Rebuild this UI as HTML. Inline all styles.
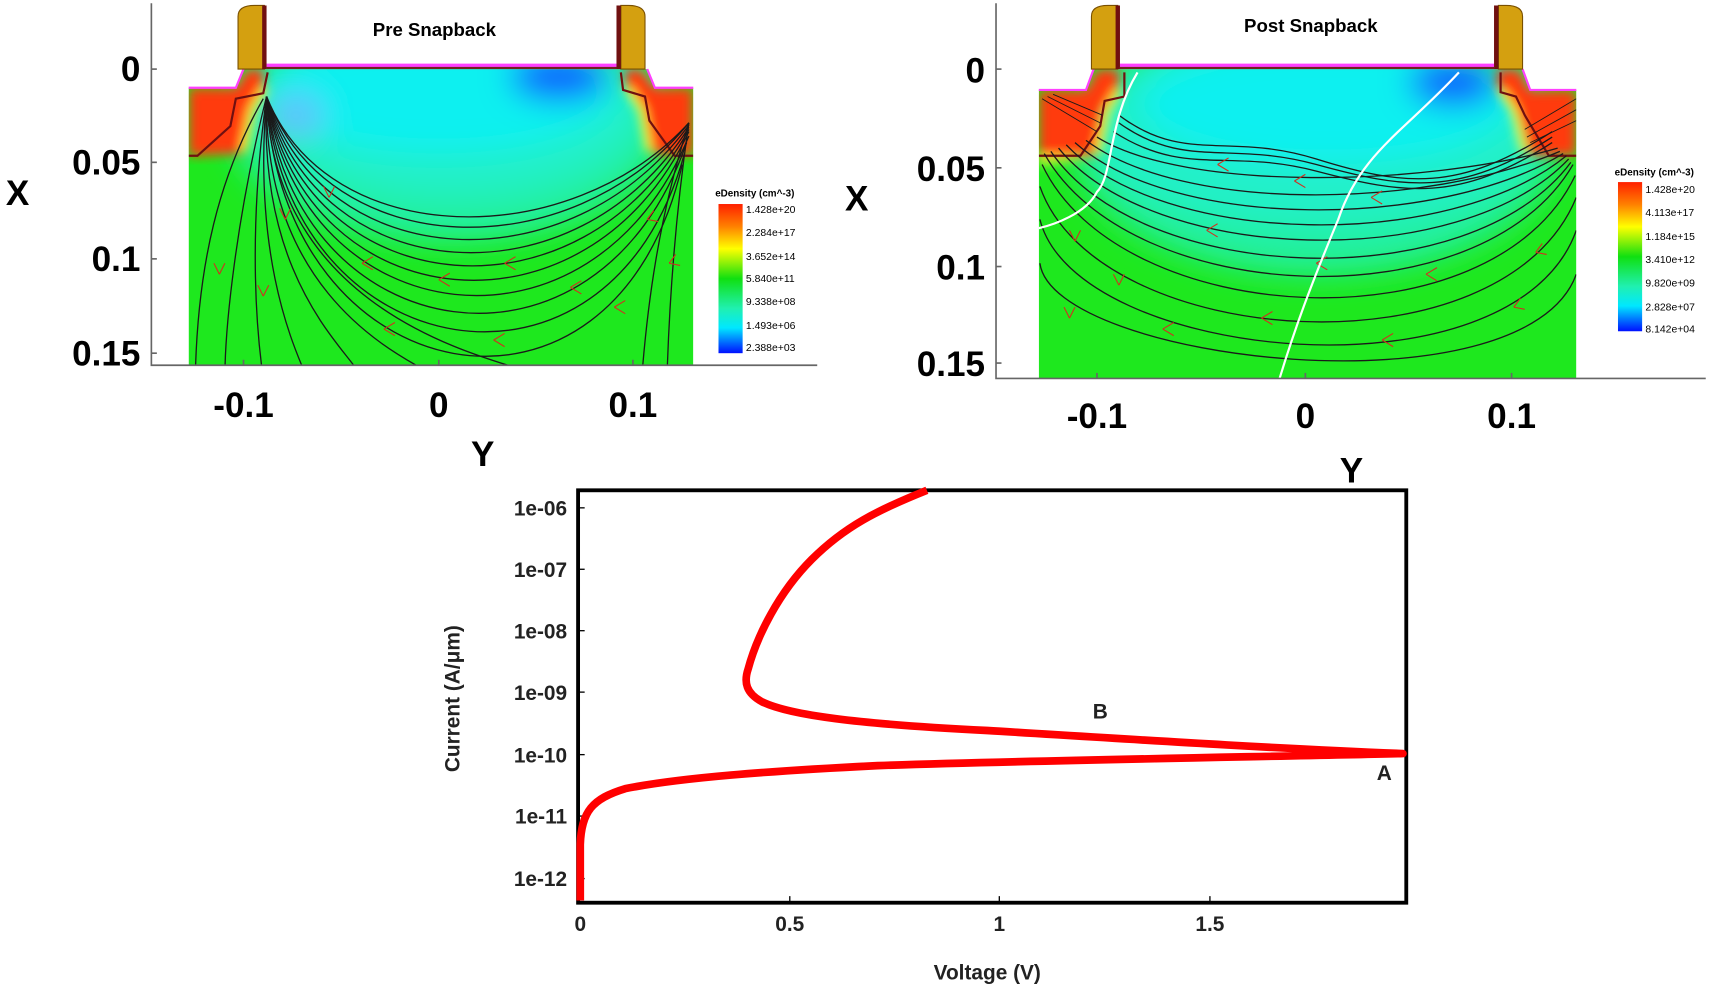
<!DOCTYPE html>
<html><head><meta charset="utf-8"><style>
html,body{margin:0;padding:0;background:#fff;}
svg{display:block;}
text{font-family:"Liberation Sans",sans-serif;}
</style></head><body>
<svg width="1720" height="992" viewBox="0 0 1568 904.4" preserveAspectRatio="none" xmlns="http://www.w3.org/2000/svg">
<defs>
<filter id="bl" x="-20%" y="-20%" width="140%" height="140%"><feGaussianBlur stdDeviation="14"/></filter>
<filter id="bl2"><feGaussianBlur stdDeviation="5"/></filter>
<linearGradient id="cb" x1="0" y1="0" x2="0" y2="1">
<stop offset="0" stop-color="#ff2000"/><stop offset="0.15" stop-color="#ff8000"/><stop offset="0.3" stop-color="#ffff00"/><stop offset="0.5" stop-color="#10e010"/><stop offset="0.7" stop-color="#20f0b0"/><stop offset="0.83" stop-color="#00e8ff"/><stop offset="1" stop-color="#0010ff"/></linearGradient>
<clipPath id="c1"><path d="M172,80 L215,80 L222,63 L590,63 L597,80 L632,80 L632,333 L172,333Z"/></clipPath>
<clipPath id="c2"><path d="M947,82 L990,82 L997,63 L1388,63 L1395,82 L1437,82 L1437,345 L947,345Z"/></clipPath>
</defs>

<!-- ============ LEFT PANEL ============ -->
<g clip-path="url(#c1)">
<rect x="160" y="55" width="490" height="290" fill="#1ee81e"/>
<g filter="url(#bl)">
<ellipse cx="410" cy="110" rx="200" ry="110" fill="#20f0a0"/>
<ellipse cx="410" cy="100" rx="175" ry="80" fill="#20f0c8"/>
<ellipse cx="400" cy="85" rx="160" ry="55" fill="#10f0f0"/>
<ellipse cx="510" cy="70" rx="45" ry="22" fill="#1060ff"/>
<ellipse cx="270" cy="105" rx="25" ry="20" fill="#60c0ff"/>
</g>
<g filter="url(#bl2)">
<path d="M172,80 L215,80 L225,63 L240,63 L240,80 L228,100 L222,140 L180,142 L172,142Z" fill="#ff3a10"/>
<path d="M632,80 L597,80 L585,63 L570,63 L570,80 L585,100 L595,140 L632,142Z" fill="#ff3a10"/>
<path d="M222,138 L230,100 L242,80" stroke="#ffff40" stroke-width="6" fill="none"/>
<path d="M592,138 L585,100 L572,80" stroke="#ffff40" stroke-width="6" fill="none"/>
</g>
<path d="M172,142 L180,142 L210,115 L215,90 L240,85 L244,66" stroke="#701010" stroke-width="2" fill="none"/>
<path d="M632,142 L615,142 L592,110 L588,88 L568,82 L566,66" stroke="#701010" stroke-width="2" fill="none"/>
<g stroke="#1a1a1a" stroke-width="1.2" fill="none">
<path d="M243,88 C300,230 520,230 628,112"/>
<path d="M243,88 C300,240 520,245 628,112"/>
<path d="M243,88 C295,252 520,262 628,114"/>
<path d="M243,88 C290,265 525,280 628,116"/>
<path d="M243,88 C285,278 530,298 628,118"/>
<path d="M243,88 C280,292 535,318 628,120"/>
<path d="M243,88 C275,305 540,340 628,124"/>
<path d="M243,88 C268,320 545,365 626,130"/>
<path d="M243,88 C262,335 555,390 624,140"/>
<path d="M243,88 C255,360 560,420 622,150"/>
<path d="M243,88 C250,300 470,330 500,345"/>
<path d="M243,88 C240,280 380,330 400,345"/>
<path d="M243,88 C235,260 320,320 330,345"/>
<path d="M243,88 C230,240 270,320 280,345"/>
<path d="M243,88 C225,220 235,310 240,345"/>
<path d="M243,88 C215,200 205,300 205,345"/>
<path d="M240,90 C200,160 180,240 178,345"/>
<path d="M628,112 C600,200 590,280 585,345"/>
<path d="M628,112 C615,200 610,280 608,345"/>
</g>
<g stroke="#d03020" stroke-width="1" fill="none">
<path d="M400,255 l10,-6 M400,255 l10,6 M460,240 l10,-6 M460,240 l10,6 M520,262 l10,-6 M520,262 l10,6 M350,300 l10,-6 M350,300 l10,6 M450,310 l10,-6 M450,310 l10,6 M560,280 l10,-6 M560,280 l10,6 M240,270 l-5,-10 M240,270 l5,-10 M200,250 l-5,-10 M200,250 l5,-10 M260,200 l-5,-10 M260,200 l5,-10 M300,180 l-5,-10 M300,180 l5,-10 M590,200 l6,-8 M590,200 l10,2 M610,240 l6,-8 M610,240 l10,2 M330,240 l10,-6 M330,240 l10,6"/>
</g>
</g>
<path d="M172,80 L215,80 L222,63 M590,63 L597,80 L632,80" stroke="#ff40ff" stroke-width="2" fill="none"/>
<rect x="243" y="58" width="319" height="4" fill="#ff40ff"/>
<rect x="243" y="61" width="319" height="2" fill="#702020"/>
<path d="M217,63 L217,15 Q217,5 232,5 L241,5 L241,63Z" fill="#d4a010" stroke="#7a5000" stroke-width="1"/>
<rect x="239" y="5" width="4" height="58" fill="#701010"/>
<path d="M588,63 L588,15 Q588,5 573,5 L566,5 L566,63Z" fill="#d4a010" stroke="#7a5000" stroke-width="1"/>
<rect x="562" y="5" width="4" height="58" fill="#701010"/>
<text x="396" y="33" font-size="17" font-weight="bold" text-anchor="middle">Pre Snapback</text>
<path d="M138,3 L138,333 L745,333" stroke="#666" stroke-width="1.5" fill="none"/>
<g stroke="#666" stroke-width="1.5"><line x1="138" y1="63" x2="143" y2="63"/><line x1="138" y1="148" x2="143" y2="148"/><line x1="138" y1="236" x2="143" y2="236"/><line x1="138" y1="322" x2="143" y2="322"/><line x1="222" y1="333" x2="222" y2="328"/><line x1="400" y1="333" x2="400" y2="328"/><line x1="577" y1="333" x2="577" y2="328"/></g>
<g font-size="32" font-weight="bold" text-anchor="end"><text x="128" y="74">0</text><text x="128" y="159">0.05</text><text x="128" y="247">0.1</text><text x="128" y="333">0.15</text></g>
<g font-size="32" font-weight="bold" text-anchor="middle"><text x="222" y="380">-0.1</text><text x="400" y="380">0</text><text x="577" y="380">0.1</text><text x="440" y="425">Y</text><text x="16" y="187">X</text></g>
<text x="652" y="179" font-size="9" font-weight="bold">eDensity (cm^-3)</text>
<rect x="655" y="186" width="22" height="136" fill="url(#cb)"/>
<g font-size="9.5"><text x="680" y="194">1.428e+20</text><text x="680" y="215">2.284e+17</text><text x="680" y="237">3.652e+14</text><text x="680" y="257">5.840e+11</text><text x="680" y="278">9.338e+08</text><text x="680" y="300">1.493e+06</text><text x="680" y="320">2.388e+03</text></g>

<!-- ============ RIGHT PANEL ============ -->
<g clip-path="url(#c2)">
<rect x="940" y="55" width="510" height="300" fill="#1ee81e"/>
<g filter="url(#bl)">
<ellipse cx="1200" cy="130" rx="220" ry="120" fill="#20f0a0"/>
<ellipse cx="1200" cy="115" rx="210" ry="90" fill="#20f0c8"/>
<ellipse cx="1210" cy="95" rx="170" ry="55" fill="#10f0f0"/>
<ellipse cx="1325" cy="75" rx="40" ry="22" fill="#1060ff"/>
</g>
<g filter="url(#bl2)">
<path d="M947,82 L990,82 L1000,63 L1020,63 L1020,80 L1005,100 L998,142 L947,142Z" fill="#ff3a10"/>
<path d="M1437,82 L1395,82 L1385,63 L1365,63 L1365,82 L1385,105 L1395,142 L1437,142Z" fill="#ff3a10"/>
<path d="M947,142 L998,142 L947,150Z" fill="#ffff40"/>
<path d="M1000,140 L1010,100 L1020,82" stroke="#ffff40" stroke-width="6" fill="none"/>
<path d="M1390,140 L1380,100 L1368,82" stroke="#ffff40" stroke-width="6" fill="none"/>
</g>
<path d="M947,142 L985,142 L1003,115 L1007,92 L1025,88 L1025,66" stroke="#701010" stroke-width="2" fill="none"/>
<path d="M1437,142 L1412,142 L1390,105 L1382,88 L1368,84 L1368,66" stroke="#701010" stroke-width="2" fill="none"/>
<g stroke="#1a1a1a" stroke-width="1.2" fill="none">
<path d="M1020,105 C1080,150 1120,120 1200,145 S1330,175 1415,120"/>
<path d="M1020,112 C1080,155 1120,128 1200,150 S1330,180 1415,125"/>
<path d="M1015,120 C1080,162 1120,135 1200,156 S1330,185 1415,130"/>
<path d="M1000,125 C1080,175 1300,170 1420,135"/>
<path d="M990,128 C1080,195 1300,190 1422,138"/>
<path d="M980,130 C1070,210 1310,210 1425,140"/>
<path d="M972,132 C1060,225 1320,230 1428,142"/>
<path d="M965,135 C1050,240 1330,250 1430,145"/>
<path d="M958,138 C1040,260 1340,272 1432,148"/>
<path d="M952,140 C1030,280 1350,295 1434,150"/>
<path d="M950,150 C1020,300 1360,320 1436,160"/>
<path d="M948,170 C1000,320 1370,345 1437,180"/>
<path d="M948,200 C980,330 1380,370 1437,210"/>
<path d="M948,240 C960,330 1390,380 1437,250"/>
<g stroke-width="0.8"><path d="M950,90 L1000,120 M955,88 L1003,112 M960,86 L1005,105 M1437,90 L1390,118 M1437,100 L1392,125 M1437,110 L1395,130"/></g>
</g>
<g stroke="#d03020" stroke-width="1" fill="none">
<path d="M1110,150 l10,-6 M1110,150 l10,6 M1180,165 l10,-6 M1180,165 l10,6 M1250,180 l10,-6 M1250,180 l10,6 M1100,210 l10,-6 M1100,210 l10,6 M1200,240 l10,-6 M1200,240 l10,6 M1300,250 l10,-6 M1300,250 l10,6 M1150,290 l10,-6 M1150,290 l10,6 M1260,310 l10,-6 M1260,310 l10,6 M980,220 l-5,-10 M980,220 l5,-10 M975,290 l-5,-10 M975,290 l5,-10 M1020,260 l-5,-10 M1020,260 l5,-10 M1400,230 l6,-8 M1400,230 l10,2 M1380,280 l6,-8 M1380,280 l10,2 M1060,300 l10,-6 M1060,300 l10,6"/>
</g>
<path d="M1037,66 C1010,110 1015,160 1000,175 C990,195 960,205 947,208" stroke="#fff" stroke-width="2" fill="none"/>
<path d="M1330,66 C1280,120 1240,140 1220,200 C1195,260 1180,300 1165,350" stroke="#fff" stroke-width="2" fill="none"/>
</g>
<path d="M947,82 L990,82 L997,63 M1388,63 L1395,82 L1437,82" stroke="#ff40ff" stroke-width="2" fill="none"/>
<rect x="1021" y="58" width="341" height="4" fill="#ff40ff"/>
<rect x="1021" y="61" width="341" height="2" fill="#702020"/>
<path d="M995,63 L995,15 Q995,5 1010,5 L1019,5 L1019,63Z" fill="#d4a010" stroke="#7a5000" stroke-width="1"/>
<rect x="1017" y="5" width="4" height="58" fill="#701010"/>
<path d="M1388,63 L1388,15 Q1388,5 1373,5 L1366,5 L1366,63Z" fill="#d4a010" stroke="#7a5000" stroke-width="1"/>
<rect x="1362" y="5" width="4" height="58" fill="#701010"/>
<text x="1195" y="29" font-size="17" font-weight="bold" text-anchor="middle">Post Snapback</text>
<path d="M908,3 L908,345 L1555,345" stroke="#666" stroke-width="1.5" fill="none"/>
<g stroke="#666" stroke-width="1.5"><line x1="908" y1="63" x2="913" y2="63"/><line x1="908" y1="153" x2="913" y2="153"/><line x1="908" y1="243" x2="913" y2="243"/><line x1="908" y1="331" x2="913" y2="331"/><line x1="1000" y1="345" x2="1000" y2="340"/><line x1="1190" y1="345" x2="1190" y2="340"/><line x1="1378" y1="345" x2="1378" y2="340"/></g>
<g font-size="32" font-weight="bold" text-anchor="end"><text x="898" y="75">0</text><text x="898" y="165">0.05</text><text x="898" y="255">0.1</text><text x="898" y="343">0.15</text></g>
<g font-size="32" font-weight="bold" text-anchor="middle"><text x="1000" y="390">-0.1</text><text x="1190" y="390">0</text><text x="1378" y="390">0.1</text><text x="1232" y="440">Y</text><text x="781" y="192">X</text></g>
<text x="1472" y="160" font-size="9" font-weight="bold">eDensity (cm^-3)</text>
<rect x="1475" y="166" width="22" height="136" fill="url(#cb)"/>
<g font-size="9.5"><text x="1500" y="176">1.428e+20</text><text x="1500" y="197">4.113e+17</text><text x="1500" y="219">1.184e+15</text><text x="1500" y="240">3.410e+12</text><text x="1500" y="261">9.820e+09</text><text x="1500" y="283">2.828e+07</text><text x="1500" y="303">8.142e+04</text></g>

<!-- ============ BOTTOM PLOT ============ -->
<rect x="527" y="447" width="755" height="376" fill="#fff" stroke="#000" stroke-width="3.5"/>
<g stroke="#000" stroke-width="1.2">
<line x1="527" y1="463" x2="533" y2="463"/><line x1="527" y1="519" x2="533" y2="519"/><line x1="527" y1="575" x2="533" y2="575"/><line x1="527" y1="631" x2="533" y2="631"/><line x1="527" y1="688" x2="533" y2="688"/><line x1="527" y1="744" x2="533" y2="744"/><line x1="527" y1="801" x2="533" y2="801"/>
<line x1="720" y1="823" x2="720" y2="817"/><line x1="911" y1="823" x2="911" y2="817"/><line x1="1103" y1="823" x2="1103" y2="817"/>
</g>
<g font-size="19" font-weight="bold" fill="#222" text-anchor="end"><text x="517" y="470">1e-06</text><text x="517" y="526">1e-07</text><text x="517" y="582">1e-08</text><text x="517" y="638">1e-09</text><text x="517" y="695">1e-10</text><text x="517" y="751">1e-11</text><text x="517" y="808">1e-12</text></g>
<g font-size="19" font-weight="bold" fill="#222" text-anchor="middle"><text x="529" y="849">0</text><text x="720" y="849">0.5</text><text x="911" y="849">1</text><text x="1103" y="849">1.5</text><text x="900" y="893">Voltage (V)</text></g>
<text transform="translate(419,637) rotate(-90)" font-size="19" font-weight="bold" fill="#222" text-anchor="middle">Current (A/μm)</text>
<path d="M529,821 L529,770 C530,740 540,728 570,719 C620,709 700,703 800,698 C950,693 1150,690 1279,687 C1150,682 1000,672 900,666 C780,660 720,652 695,640 C680,632 678,622 682,610 C690,580 710,540 740,510 C770,480 800,465 845,447" stroke="#ff0000" stroke-width="7" fill="none" stroke-linejoin="round"/>
<text x="1003" y="655" font-size="19" font-weight="bold" fill="#222" text-anchor="middle">B</text>
<text x="1262" y="711" font-size="19" font-weight="bold" fill="#222" text-anchor="middle">A</text>
</svg>
</body></html>
